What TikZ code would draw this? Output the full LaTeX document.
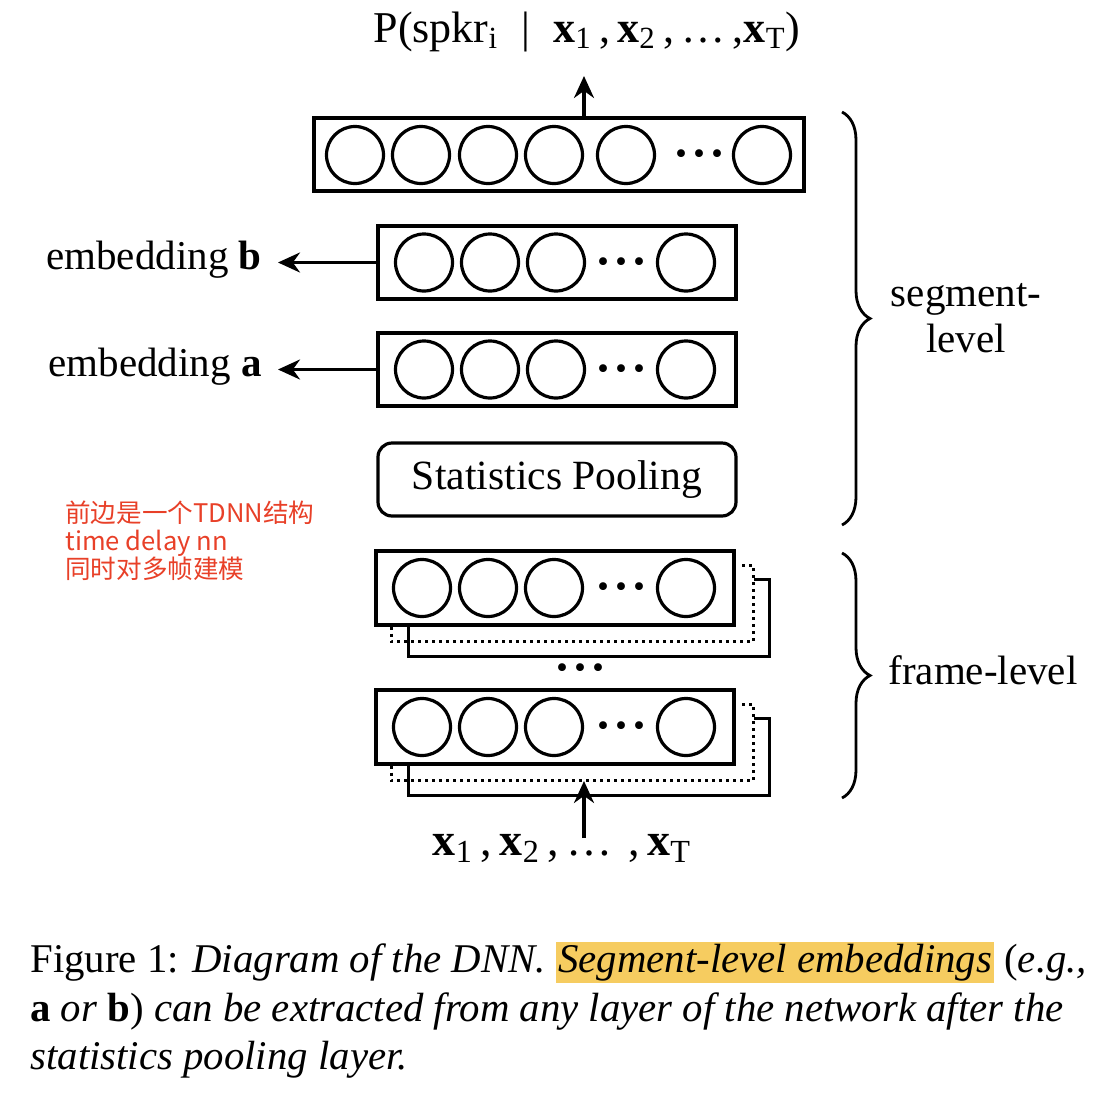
\documentclass[tikz,border=0pt]{standalone}
\usepackage{fontspec}
\setmainfont{Liberation Serif}
\newfontfamily\cjk{Noto Sans CJK SC}
\usetikzlibrary{decorations.pathreplacing,arrows.meta,calc}
\definecolor{hlc}{RGB}{246,204,96}
\definecolor{note}{RGB}{232,64,40}
\newcommand{\bdots}{\textbf{\textperiodcentered\kern1pt\textperiodcentered\kern1pt\textperiodcentered}}
\tikzset{
 layerbox/.style={draw,line width=1.6pt},
 unit/.style={draw,circle,line width=1.6pt,minimum size=28.5pt,inner sep=0pt},
 conn/.style={line width=1.6pt,-{Stealth[length=11pt,width=10pt]}},
 lbl/.style={font=\fontsize{20.5}{24}\selectfont,inner sep=0pt},
 dotn/.style={font=\fontsize{24}{24}\selectfont,inner sep=0pt},
 dotb/.style={line width=1.5pt,dotted},
 solb/.style={line width=1.5pt},
 brc/.style={line width=1.4pt,decorate,decoration={brace,amplitude=14pt}},
}
\begin{document}
\begin{tikzpicture}[x=0.5pt,y=-0.5pt]
\useasboundingbox (0,0) rectangle (1116,1110);
% top layer
\node[layerbox,minimum width=245pt,minimum height=36.5pt] (top) at (559,154.5) {};
\foreach \x/\n in {355/1,421/2,488/3,554/4,626/5,762/6} \node[unit] (t\n) at (\x,155) {};
\node[dotn] (tdots) at (700,160) {\bdots};
\node[lbl,anchor=south,font=\fontsize{22}{26}\selectfont] (title) at (587,52) {P(spkr\textsubscript{i} \;\textbar\; \textbf{x}\textsubscript{1}\,,\,\textbf{x}\textsubscript{2}\,,\,\dots\,,\textbf{x}\textsubscript{T})};
\coordinate (topout) at (584,118);
\draw[conn] (topout) -- (584,76);
% embedding b, a
\foreach \nm/\y in {b/262.5,a/369.5}{
 \node[layerbox,minimum width=179pt,minimum height=36.5pt] (L\nm) at (557,\y) {};
 \foreach \x/\n in {424/1,490/2,556/3,686/4} \node[unit] (\nm\n) at (\x,\y) {};
 \node[dotn] (\nm dots) at (622,\y+5) {\bdots};
 \node[lbl,anchor=east] (E\nm) at (262,\y-3) {embedding \textbf{\nm}};
 \draw[conn] (L\nm.west) -- ([xshift=8pt,yshift=-1.5pt]E\nm.east);
}
% stats pooling
\node[layerbox,rounded corners=7pt,minimum width=179pt,minimum height=36.5pt,font=\fontsize{20.8}{24}\selectfont] (pool) at (557,479.5) {Statistics Pooling};
% frame level
\foreach \nm/\y in {f1/588,f2/727}{
 \node[layerbox,minimum width=179pt,minimum height=37pt] (\nm) at (555,\y) {};
 \foreach \x/\n in {422/1,488/2,554/3,686/4} \node[unit] (\nm c\n) at (\x,\y) {};
 \node[dotn] (\nm dots) at (622,\y+5) {\bdots};
 \draw[dotb] ([xshift=8.5pt]\nm.south west) -- ++(0,-7.5pt) -| ([xshift=9pt,yshift=-8pt]\nm.north east) -- ++(-6pt,0);
 \draw[solb] ([xshift=17pt]\nm.south west) -- ++(0,-15pt) -| ([xshift=17pt,yshift=-15pt]\nm.north east) -- ++(-8pt,0);
}
\node[dotn] (mdots) at (581,674) {\bdots};
\node[lbl,anchor=north,font=\fontsize{23}{26}\selectfont] (inp) at (562,834) {\textbf{x}\textsubscript{1}\,,\,\textbf{x}\textsubscript{2}\,,\,\dots\,\,,\,\textbf{x}\textsubscript{T}};
\coordinate (inpt) at (584,838);
\draw[conn] (inpt) -- (584,781);
% braces
\draw[brc] (842,112) -- (842,525);
\draw[brc] (842,553) -- (842,798);
\node[lbl,align=center] (seg) at (966,318) {segment-\\[-1pt]level};
\node[lbl] (frm) at (983,670) {frame-level};
% note
\node[anchor=north west,inner sep=0pt,text=note,align=left,font=\cjk\fontsize{12.8}{14}\selectfont] (note) at (65,500) {前边是一个TDNN结构\\time delay nn\\同时对多帧建模};
% caption
\node[anchor=base west,inner sep=0pt,font=\fontsize{20.4}{24}\selectfont] (c1) at (30,972) {Figure 1: \textit{Diagram of the DNN.} {\fboxsep=1pt\colorbox{hlc}{\textit{Segment-level embeddings}}} (\textit{e.g.,}};
\node[anchor=base west,inner sep=0pt,font=\fontsize{20.4}{24}\selectfont] (c2) at (30,1021) {\textbf{a} \textit{or} \textbf{b}) \textit{can be extracted from any layer of the network after the}};
\node[anchor=base west,inner sep=0pt,font=\fontsize{20.4}{24}\selectfont] (c3) at (30,1069) {\textit{statistics pooling layer.}};
\end{tikzpicture}
\end{document}
